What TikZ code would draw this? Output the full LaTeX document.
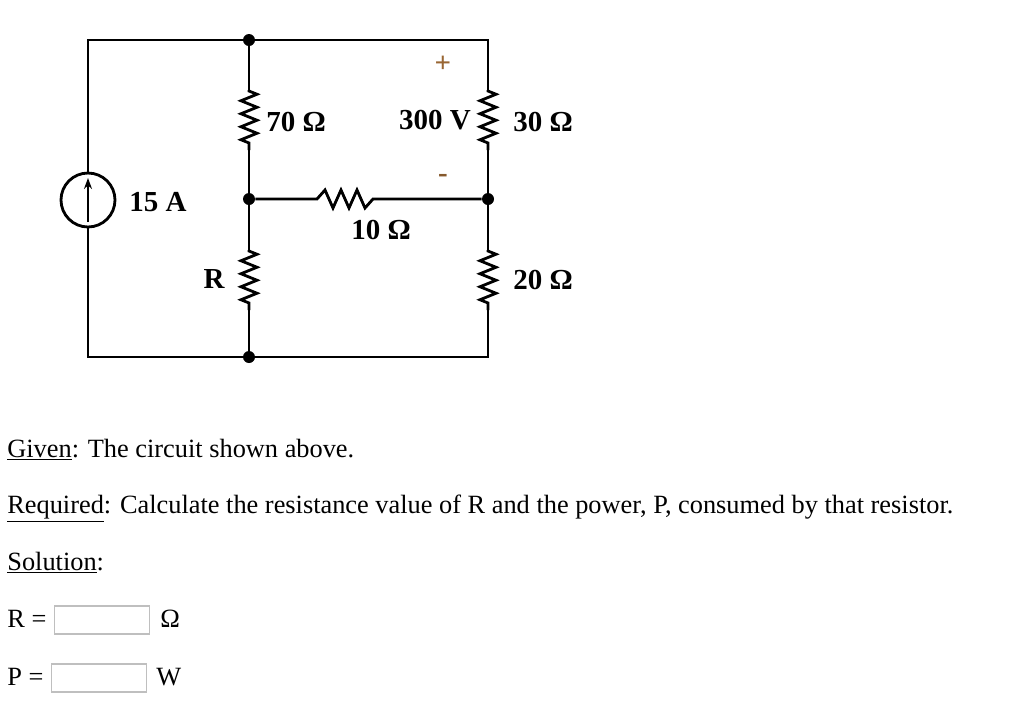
\documentclass[tikz,border=0pt]{standalone}
\usepackage{fontspec}
\setmainfont{Liberation Serif}
\usetikzlibrary{decorations.pathmorphing,arrows.meta}
\begin{document}
\begin{tikzpicture}[x=0.02cm,y=-0.02cm,
  wire/.style={line width=1.6pt},
  res/.style={wire,decorate,decoration={zigzag,amplitude=0.16cm,segment length=0.26cm,pre length=0.02cm,post length=0.02cm}},
  dotn/.style={circle,fill,inner sep=0pt,minimum size=0.24cm},
  lab/.style={font=\fontsize{16.5}{18}\selectfont\bfseries,inner sep=0pt},
  txt/.style={font=\fontsize{15}{17}\selectfont,anchor=base west,inner sep=0pt},
  box/.style={draw=black!25,line width=0.6pt,minimum width=1.9cm,minimum height=0.56cm,inner sep=0pt}]
\useasboundingbox (0,0) rectangle (1024,721);
\coordinate (TL) at (88,40); \coordinate (BL) at (88,357);
\coordinate (TR) at (488,40); \coordinate (BR) at (488,357);
\node[dotn] (TM) at (249,40) {};
\node[dotn] (MM) at (249,199) {};
\node[dotn] (BM) at (249,357) {};
\node[dotn] (MR) at (488,199) {};
\node[draw,circle,line width=1.6pt,minimum size=1.08cm,inner sep=0pt] (S) at (88,200) {};
% wires
\draw[wire] (S.north) -- (TL) -- (TR) -- (488,90);
\draw[wire] (S.south) -- (BL) -- (BR) -- (488,310);
\draw[wire] (TM) -- (249,90); \draw[wire] (249,150) -- (MM) -- (249,250);
\draw[wire] (249,310) -- (BM);
\draw[wire] (488,150) -- (MR) -- (488,250);
\draw[res] (249,90) -- (249,150);
\draw[res] (249,250) -- (249,310);
\draw[res] (488,90) -- (488,150);
\draw[res] (488,250) -- (488,310);
\draw[wire] (MM) -- (317,199) -- (325,190) -- (333,208) -- (341,190) -- (349,208) -- (357,190) -- (365,208) -- (373,199) -- (MR);
\draw[wire,-{Stealth[length=0.22cm,width=0.16cm]}] (88,222) -- (88,178);
% labels
\node[lab] (l70) at (296,122) {70 Ω};
\node[lab] (l300) at (435,120) {300 V};
\node[lab] (l30) at (543,122) {30 Ω};
\node[lab,text=brown!80!black] (lp) at (443,64) {+};
\node[lab,text=brown!70!black] (lm) at (443,178) {-};
\node[lab] (l15) at (158,202) {15 A};
\node[lab] (l10) at (381,230) {10 Ω};
\node[lab] (lR) at (214,279) {R};
\node[lab] (l20) at (543,280) {20 Ω};
% text
\node[txt] (g) at (7,457) {\underline{Given}: The circuit shown above.};
\node[txt] (r) at (7,513) {\underline{Required}: Calculate the resistance value of R and the power, P, consumed by that resistor.};
\node[txt] (s) at (7,570) {\underline{Solution}:};
\node[txt] (req) at (7,627) {R =};
\node[box] (b1) at (102,620) {};
\node[txt] (om) at (160,627) {Ω};
\node[txt] (peq) at (7,685) {P =};
\node[box] (b2) at (99,678) {};
\node[txt] (w) at (156,685) {W};
\end{tikzpicture}
\end{document}
